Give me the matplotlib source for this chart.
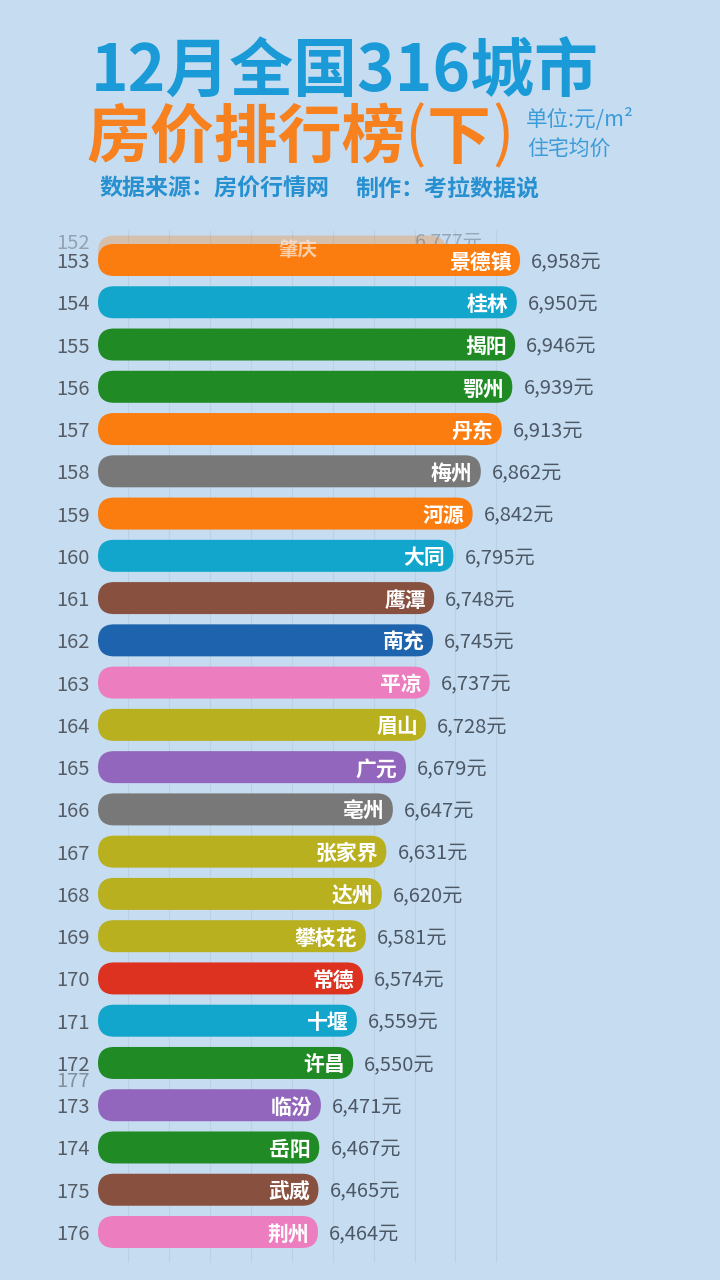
import matplotlib.pyplot as plt
from matplotlib.patches import FancyBboxPatch

plt.rcParams['font.family'] = ['Noto Sans CJK SC', 'DejaVu Sans']

# data: rank, city, price (yuan/m2), colour group
ranks = list(range(153, 177))
cities = ['景德镇', '桂林', '揭阳', '鄂州', '丹东', '梅州', '河源', '大同',
          '鹰潭', '南充', '平凉', '眉山', '广元', '亳州', '张家界', '达州',
          '攀枝花', '常德', '十堰', '许昌', '临汾', '岳阳', '武威', '荆州']
prices = [6958, 6950, 6946, 6939, 6913, 6862, 6842, 6795,
          6748, 6745, 6737, 6728, 6679, 6647, 6631, 6620,
          6581, 6574, 6559, 6550, 6471, 6467, 6465, 6464]
groups = ['orange', 'cyan', 'green', 'green', 'orange', 'grey', 'orange', 'cyan',
          'brown', 'blue', 'pink', 'olive', 'purple', 'grey', 'olive', 'olive',
          'olive', 'red', 'cyan', 'green', 'purple', 'green', 'brown', 'pink']

# fading entries from the animation
fade_out_rank, fade_out_city, fade_out_price = 152, '肇庆', 6777
fade_in_rank = 177

palette = {'orange': '#fb7d10', 'cyan': '#12a6cc', 'green': '#208a24',
           'grey': '#787878', 'brown': '#88503f', 'blue': '#1e63ad',
           'pink': '#ec7ec0', 'olive': '#b9b020', 'purple': '#9366bd',
           'red': '#de3220'}

BASE = 5926
grid_vals = list(range(5900, 7000, 100))

bg = '#c6ddf1'
W, H = 720, 1280
fig = plt.figure(figsize=(7.2, 12.8), dpi=100, facecolor=bg)


def fx(px):
    return px / W


def fy(py):
    return 1 - py / H


# title block
blue_t, orange_t = '#1b9ad8', '#f7801f'
fig.text(fx(91), fy(66), '12月全国316城市', color=blue_t, fontsize=46,
         fontweight='bold', va='center_baseline')
fig.text(fx(86), fy(132), '房价排行榜', color=orange_t, fontsize=46,
         fontweight='bold', va='center_baseline')
fig.text(fx(404), fy(130), '(', color=orange_t, fontsize=46,
         fontweight='light', va='center_baseline')
fig.text(fx(427), fy(132), '下', color=orange_t, fontsize=46,
         fontweight='bold', va='center_baseline')
fig.text(fx(492), fy(130), ')', color=orange_t, fontsize=46,
         fontweight='light', va='center_baseline')
fig.text(fx(526), fy(117), '单位:元/m²', color='#3c9bd9', fontsize=15.5,
         va='center_baseline')
fig.text(fx(527), fy(147), '住宅均价', color='#3c9bd9', fontsize=15,
         va='center_baseline')
fig.text(fx(99), fy(187), '数据来源：房价行情网', color='#2690d0', fontsize=16.6,
         fontweight='bold', va='center_baseline')
fig.text(fx(356), fy(187), '制作：考拉数据说', color='#2690d0', fontsize=16.6,
         fontweight='bold', va='center_baseline')

# chart area
ax = fig.add_axes([fx(98), fy(1275), fx(622), (1275 - 215) / H])
ax.set_facecolor('none')
px_per_x = 0.409
px_per_row = 42.26
ax.set_xlim(BASE, BASE + 622 / px_per_x)
ax.set_ylim(176 + 43 / px_per_row, 153 - 45 / px_per_row)
ax.axis('off')

ax.vlines(grid_vals, 153 - 30 / px_per_row, 176 + 30 / px_per_row,
          color='#b4c8da', lw=0.8, alpha=0.6, zorder=0)

bar_h = 32 / px_per_row
rad = 16 / px_per_x
aspect = px_per_x / px_per_row


def draw_bar(rank, value, color, alpha=1.0, z=2):
    box = FancyBboxPatch((BASE, rank - bar_h / 2), value - BASE, bar_h,
                         boxstyle=f'round,pad=0,rounding_size={rad}',
                         mutation_aspect=aspect, fc=color, ec='none',
                         alpha=alpha, zorder=z)
    ax.add_patch(box)


# fading bar hidden behind the first row
draw_bar(fade_out_rank + 0.8, fade_out_price, palette['orange'], alpha=0.3, z=1)
ax.text(BASE + 200 / px_per_x, fade_out_rank + 0.72, fade_out_city, color='#fbe3cf',
        alpha=0.8, fontsize=14, fontweight='bold', ha='center',
        va='center_baseline', zorder=4)
ax.text(BASE + 317 / px_per_x, fade_out_rank + 0.5, f'{fade_out_price:,}元',
        color='#4d5866', alpha=0.4, fontsize=14, va='center_baseline', zorder=1)
ax.text(BASE - 8 / px_per_x, fade_out_rank + 0.55, str(fade_out_rank), color='#555c66',
        alpha=0.45, fontsize=14.5, ha='right', va='center_baseline', clip_on=False)
ax.text(BASE - 8 / px_per_x, fade_in_rank - 4.62, str(fade_in_rank), color='#555c66',
        alpha=0.6, fontsize=14.5, ha='right', va='center_baseline', clip_on=False)

for r, c, p, g in zip(ranks, cities, prices, groups):
    draw_bar(r, p, palette[g])
    ax.annotate(c, (p, r), xytext=(-6, 0), textcoords='offset points',
                color='white', fontsize=15, fontweight='bold', ha='right',
                va='center_baseline', zorder=3)
    ax.annotate(f'{p:,}元', (p, r), xytext=(8, 0), textcoords='offset points',
                color='#4d5866', fontsize=14.5, ha='left', va='center_baseline',
                zorder=3)
    ax.text(BASE - 8 / px_per_x, r, str(r), color='#555c66', fontsize=14.5,
            ha='right', va='center_baseline', clip_on=False)

fig.savefig('out.png', dpi=100, facecolor=bg)
